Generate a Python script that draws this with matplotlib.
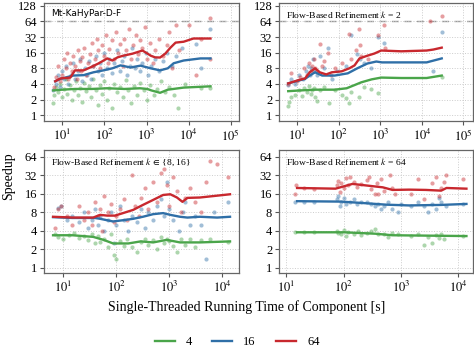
import matplotlib
matplotlib.use("Agg")
import matplotlib.pyplot as plt
from matplotlib.ticker import FixedLocator, NullLocator

plt.rcParams['font.family'] = ['Liberation Serif', 'DejaVu Serif']
plt.rcParams['mathtext.fontset'] = 'stix'

GREEN = '#4aa54a'
BLUE = '#2f6fa7'
RED = '#c8282e'
thread_labels = ['4', '16', '64']
colors = [GREEN, BLUE, RED]

titles = ['Mt-KaHyPar-D-F', 'Flow-Based Refinement $k$ = 2',
          'Flow-Based Refinement $k$$\\,\\in\\,${8, 16}', 'Flow-Based Refinement $k$ = 64']

# ---- moving-average lines (x in seconds, speedup) ----
tl_lines = {
    '4': [(6.1, 3.0), (10, 3.1), (20, 3.2), (50, 3.2), (117, 3.3), (300, 3.2), (700, 3.3), (1050, 3.2),
          (1300, 3.0), (2100, 2.7), (3200, 3.1), (7600, 3.4), (33000, 3.6)],
    '16': [(6.8, 4.5), (9, 5.0), (18, 5.8), (32, 5.9), (55, 6.7), (95, 7.3), (155, 8.0), (240, 9.1),
           (420, 8.3), (720, 9.0), (1250, 8.0), (2100, 7.3), (3200, 8.0), (4400, 10), (7600, 11.3),
           (19000, 12.4), (33000, 12.4)],
    '64': [(6.8, 4.5), (9, 5.1), (15.5, 5.3), (20, 7.3), (32, 7.3), (46, 8.3), (72, 9.9), (117, 12.4),
           (155, 11.3), (205, 13), (280, 14), (465, 15.3), (800, 17.6), (1050, 15.4), (1260, 14),
           (1600, 13), (2100, 12.9), (2800, 15.4), (3700, 20), (4900, 25), (7600, 26), (13000, 30),
           (33000, 30)],
}
tr_lines = {
    '4': [(6.1, 2.9), (12, 3.0), (27, 3.1), (80, 3.1), (155, 3.3), (240, 3.8), (350, 4.3), (620, 4.9),
          (1050, 5.3), (3200, 5.2), (13000, 5.2), (30000, 5.8)],
    '16': [(6.1, 4.1), (10.5, 4.6), (15.5, 5.0), (20, 5.8), (27, 6.7), (40, 5.8), (80, 5.8), (165, 6.4),
           (280, 8.0), (490, 9.9), (800, 10.8), (1100, 10.4), (3200, 10.4), (13000, 10.4), (30000, 12.4)],
    '64': [(6.1, 4.1), (10.5, 4.7), (15.5, 5.1), (20, 6.7), (27, 8.0), (35, 6.7), (50, 6.1), (68, 6.7),
           (118, 7.0), (180, 8.0), (240, 9.1), (316, 12.4), (490, 14), (720, 15.4), (1050, 17.6),
           (3200, 17), (13000, 17.6), (19000, 18.4), (30000, 20)],
}
bl_lines = {
    '4': [(6.5, 3.4), (15, 3.4), (37, 3.2), (58, 2.86), (88, 2.5), (170, 2.5), (290, 2.7), (500, 2.6),
          (900, 2.86), (1600, 2.6), (3800, 2.6), (14000, 2.7)],
    '16': [(6.5, 6.7), (15, 6.5), (40, 6.5), (50, 6.3), (88, 5.7), (140, 6.0), (210, 6.3), (320, 6.8),
           (500, 7.5), (770, 7.8), (1050, 7.3), (1600, 6.8), (2200, 6.6), (3800, 6.8), (8000, 6.6),
           (14000, 6.8)],
    '64': [(6.5, 6.8), (15, 6.6), (37, 6.6), (50, 7.3), (68, 7.1), (95, 7.1), (135, 7.8), (210, 8.8),
           (320, 10.6), (500, 12.8), (770, 15.4), (1050, 15.8), (1400, 14), (1780, 11.9), (2200, 13.8),
           (3800, 14), (8000, 15), (14000, 15.8)],
}
br_lines = {
    '4': [(15.4, 3.8), (100, 3.8), (360, 3.6), (710, 3.4), (3000, 3.35), (13800, 3.3)],
    '16': [(15.4, 12.2), (90, 12), (210, 11.4), (550, 10.7), (1380, 10.4), (5000, 10.6), (13800, 11)],
    '64': [(15.4, 20), (72, 19.5), (142, 23.3), (245, 22), (480, 20.5), (710, 18.6), (1380, 18.8),
           (2700, 18.6), (5000, 18.1), (6200, 20), (13800, 19.5)],
}

# ---- individual measurements ----
tl_points = {
    '4': [(6, 1.7), (6.5, 2.5), (7, 3.5), (8, 2.8), (9, 4), (10, 2.2), (11, 3.2), (12, 5), (13, 2.6),
          (15, 3.8), (17, 2), (19, 3), (21, 4.5), (24, 2.4), (27, 3.4), (30, 1.8), (33, 4.2), (37, 2.9),
          (42, 3.6), (48, 2.2), (55, 5), (62, 3), (70, 1.6), (80, 3.8), (90, 2.6), (100, 4.5), (115, 2),
          (130, 3.3), (150, 1.4), (170, 4), (200, 2.8), (230, 3.5), (270, 2.2), (320, 4.8), (370, 3),
          (430, 1.7), (500, 3.6), (600, 2.5), (700, 4.2), (850, 3), (1000, 2), (1200, 3.8), (1500, 2.5),
          (1800, 3.2), (2200, 4.5), (2800, 2.8), (3500, 3.5), (4500, 2.4), (5500, 1.4), (8000, 4),
          (20000, 3.4), (32000, 3.3)],
    '16': [(6, 3), (7, 4), (8, 6), (9, 3.5), (10, 7), (11, 5), (12, 9), (14, 4), (16, 6), (18, 10),
           (20, 5), (23, 7), (26, 12), (30, 4.5), (34, 8), (38, 6), (42, 11), (48, 5), (55, 9), (62, 14),
           (70, 7), (80, 10), (90, 6), (100, 16), (115, 8), (130, 12), (150, 6.5), (170, 10), (200, 18),
           (230, 7), (260, 11), (300, 14), (350, 6), (400, 9), (450, 20), (520, 8), (600, 12), (700, 7),
           (800, 10), (950, 16), (1100, 6), (1300, 9), (1600, 12), (2000, 7), (2500, 11), (3000, 16),
           (4000, 9), (5000, 14), (7000, 20), (15000, 24), (20000, 8), (32000, 45)],
    '64': [(6.5, 3.5), (7, 5.5), (8, 9), (9, 4.5), (10, 6), (11, 12), (12, 8), (13, 16), (14, 5),
           (15, 10), (17, 7), (18, 14), (20, 9), (22, 5), (24, 18), (26, 11), (28, 7), (30, 13), (33, 20),
           (36, 6), (40, 10), (45, 15), (50, 25), (55, 9), (60, 12), (65, 30), (70, 18), (80, 8), (90, 22),
           (100, 14), (110, 35), (120, 10), (130, 19), (150, 28), (170, 12), (190, 40), (210, 16),
           (240, 24), (270, 9), (300, 30), (330, 18), (380, 45), (420, 12), (480, 22), (550, 35),
           (620, 15), (700, 28), (800, 20), (900, 50), (1000, 12), (1200, 25), (1400, 10), (1600, 18),
           (2000, 30), (2500, 14), (3000, 22), (3500, 40), (4000, 8), (5000, 55), (6000, 18),
           (10000, 55), (15000, 6), (20000, 30), (32000, 75), (33000, 12)],
}
tr_points = {
    '4': [(6, 1.5), (6.5, 1.8), (7, 2.2), (9, 2.5), (11, 3), (13, 2.3), (15, 3.3), (17, 2.8), (19, 3.6),
          (21, 2.6), (23, 3.1), (25, 3.4), (27, 2.2), (30, 1.9), (35, 3), (45, 3.5), (60, 1.7), (80, 3),
          (120, 2.5), (150, 2.1), (180, 1.7), (200, 2.8), (300, 2.2), (400, 3.5), (600, 3.2), (900, 2.7),
          (30000, 5.5)],
    '16': [(6, 3.8), (7, 5), (9, 4), (11, 6), (14, 5), (16, 7), (18, 9), (20, 6), (22, 8), (24, 12),
           (26, 7), (30, 6), (35, 14), (45, 8), (55, 20), (70, 5), (90, 7), (150, 9), (200, 35), (280, 15),
           (320, 12), (400, 10), (600, 8), (900, 32), (1200, 25), (18000, 7), (30000, 40)],
    '64': [(6, 4), (7, 6.5), (10, 4.5), (12, 5.5), (15, 8), (17, 6), (19, 10), (21, 7), (23, 9), (25, 12),
           (27, 8), (30, 7), (35, 24), (40, 9), (45, 11), (55, 16), (65, 6), (80, 8), (120, 10), (180, 36),
           (200, 12), (260, 18), (300, 45), (320, 22), (350, 14), (500, 12), (900, 35), (1200, 55),
           (1300, 20), (16000, 64), (30000, 80)],
}
bl_points = {
    '4': [(7, 3.5), (8, 3.2), (10, 3), (13, 3.4), (16, 3.7), (20, 3.1), (25, 3.3), (30, 2.8), (35, 3.6),
          (40, 2.5), (45, 3.3), (50, 2.6), (60, 3), (70, 2.2), (80, 3.5), (90, 1.6), (100, 1.4), (120, 2.7),
          (140, 2.3), (160, 3), (200, 2.2), (250, 1.8), (300, 2.6), (350, 3), (400, 2.4), (500, 2.8),
          (600, 2), (700, 3.2), (800, 2.5), (900, 3), (1000, 2.7), (1200, 2.3), (1400, 1.8), (1700, 2.9),
          (2000, 2.4), (2500, 3), (3000, 2.2), (4000, 2.8), (6000, 3), (13000, 2.6)],
    '16': [(8, 9.5), (9, 10), (12, 6), (15, 7), (20, 5.5), (25, 8), (30, 4.5), (35, 6), (40, 9), (45, 5),
           (50, 7), (60, 4), (70, 6), (80, 8), (90, 2.5), (100, 5), (120, 10), (140, 6), (170, 4), (200, 7),
           (250, 5.5), (300, 9), (350, 4.5), (400, 8), (500, 6), (600, 10), (700, 13), (800, 7), (900, 25),
           (1000, 9), (1200, 6), (1500, 4), (1800, 8), (2000, 12), (2500, 5), (3000, 7), (4000, 5),
           (5000, 1.4), (7000, 8), (13000, 12)],
    '64': [(7, 4.5), (8, 9), (9, 10), (12, 7), (15, 5), (20, 10), (25, 6), (30, 8), (35, 5), (40, 12),
           (45, 7), (50, 9), (55, 4), (60, 15), (70, 8), (80, 11), (90, 5.5), (100, 7), (120, 9), (140, 13),
           (160, 6), (200, 32), (230, 10), (270, 7), (300, 14), (350, 20), (400, 9), (500, 25), (600, 12),
           (700, 35), (800, 40), (900, 22), (1000, 10), (1200, 30), (1400, 18), (1700, 8), (2000, 14),
           (2500, 20), (3000, 12), (4000, 8), (5000, 25), (6000, 55), (8000, 50), (13000, 30)],
}
br_points = {
    '4': [(14, 3.8), (20, 3.8), (30, 3.8), (75, 4), (80, 3.7), (90, 3.5), (100, 4.1), (110, 3.3),
          (120, 3.8), (150, 3.6), (180, 4), (200, 3.4), (250, 3.7), (300, 4), (350, 4.3), (400, 3.5),
          (500, 3.6), (600, 3.2), (700, 3.7), (900, 3.5), (1500, 3.3), (2000, 3.5), (2500, 2.4),
          (3000, 3.2), (3500, 2.5), (4000, 3.4), (4500, 3.1), (5000, 3.6), (5500, 3), (12000, 3.3)],
    '16': [(14, 12), (20, 12), (30, 12), (75, 13), (80, 15), (85, 10), (90, 12), (100, 14), (110, 11),
           (130, 12), (150, 13), (170, 11), (200, 12), (250, 12), (300, 11), (350, 10), (400, 11), (450, 9),
           (500, 10), (600, 12), (700, 9), (900, 8), (1000, 11), (1500, 10), (2000, 12), (2500, 10),
           (3000, 8), (3500, 11), (4000, 9), (4500, 14), (5000, 12), (6000, 10), (12000, 11)],
    '64': [(14, 16), (15, 22), (20, 20), (30, 19), (75, 22), (80, 26), (85, 17), (90, 24), (100, 20),
           (110, 29), (120, 22), (130, 30), (150, 25), (170, 21), (200, 23), (250, 27), (280, 30),
           (300, 19), (350, 16), (380, 24), (400, 16), (450, 28), (500, 18), (650, 32), (700, 20),
           (800, 16), (1500, 16), (2000, 28), (2500, 13), (3500, 24), (4000, 30), (4500, 15), (5000, 20),
           (5500, 25), (6000, 33), (12000, 28)],
}

panels = [
    (tl_lines, tl_points, [0.093, 0.657, 0.412, 0.335], (3.7, 1.6e5), (0.77, 146), [1, 2, 4, 8, 16, 32, 64, 128], [1, 2, 3, 4, 5]),
    (tr_lines, tr_points, [0.589, 0.657, 0.409, 0.335], (3.7, 1.7e5), (0.77, 146), [1, 2, 4, 8, 16, 32, 64, 128], [1, 2, 3, 4, 5]),
    (bl_lines, bl_points, [0.093, 0.227, 0.412, 0.348], (4.4, 2.1e4), (0.83, 83), [1, 2, 4, 8, 16, 32, 64], [1, 2, 3, 4]),
    (br_lines, br_points, [0.589, 0.227, 0.409, 0.348], (7.5, 1.8e4), (0.83, 83), [1, 2, 4, 8, 16, 32, 64], [1, 2, 3, 4]),
]

fig = plt.figure(figsize=(4.74, 3.53), dpi=100)

for i, (lines, points, rect, xlim, ylim, yt, xt) in enumerate(panels):
    ax = fig.add_axes(rect)
    ax.set_xscale('log')
    ax.set_yscale('log')
    for lab, c in zip(thread_labels, colors):
        px = [p[0] for p in points[lab]]
        py = [p[1] for p in points[lab]]
        ax.scatter(px, py, s=9, color=c, alpha=0.45, linewidths=0, zorder=2)
    for lab, c in zip(thread_labels, colors):
        lx = [p[0] for p in lines[lab]]
        ly = [p[1] for p in lines[lab]]
        ax.plot(lx, ly, color=c, lw=1.7, zorder=3, label=lab)
    if i < 2:
        ax.axhline(64, color='#999999', lw=1.0, ls=(0, (5, 4)), zorder=1)
    ax.set_xlim(*xlim)
    ax.set_ylim(*ylim)
    ax.yaxis.set_major_locator(FixedLocator(yt))
    ax.yaxis.set_minor_locator(NullLocator())
    ax.set_yticklabels([str(v) for v in yt])
    ax.xaxis.set_major_locator(FixedLocator([10 ** e for e in xt]))
    ax.xaxis.set_minor_locator(NullLocator())
    ax.set_xticklabels(['$10^{%d}$' % e for e in xt])
    ax.tick_params(labelsize=9, length=3, width=0.8, color='#555555', pad=2)
    ax.grid(True, color='#cccccc', ls=':', lw=0.7, zorder=0)
    for sp in ax.spines.values():
        sp.set_color('#666666')
        sp.set_linewidth(0.9)
    if i == 0:
        ax.text(0.035, 0.95, titles[i], transform=ax.transAxes, fontsize=6.5,
                family=['DejaVu Sans'], va='top', ha='left')
    else:
        ax.text(0.035, 0.95, titles[i], transform=ax.transAxes, fontsize=6.8,
                va='top', ha='left')
    if i == 0:
        handles, labs = ax.get_legend_handles_labels()

fig.text(0.018, 0.5, 'Speedup', rotation=90, va='center', ha='center', fontsize=10)
fig.text(0.52, 0.13, 'Single-Threaded Running Time of Component [s]', ha='center', va='center', fontsize=10)
fig.legend(handles, labs, loc='center', bbox_to_anchor=(0.5, 0.03), ncol=3, frameon=False,
           fontsize=9, handlelength=1.6, columnspacing=1.6, handletextpad=0.9)

fig.savefig('out.png', dpi=100)
